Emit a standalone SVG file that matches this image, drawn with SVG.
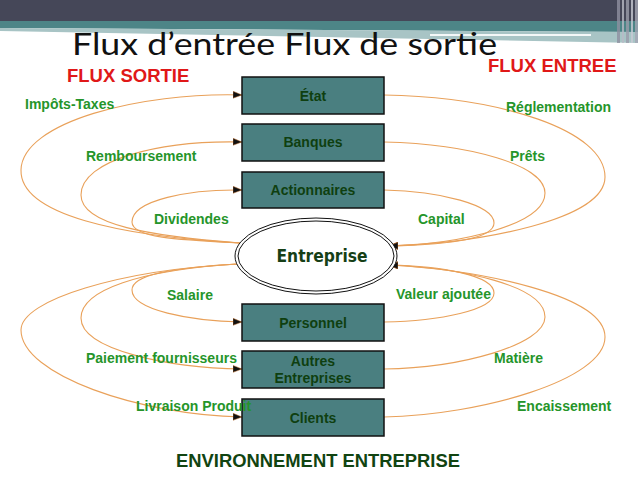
<svg xmlns="http://www.w3.org/2000/svg" width="638" height="479" viewBox="0 0 638 479">
<style>
.box{fill:#4a7f80;stroke:#111;stroke-width:1.5}
.bt{font-family:"Liberation Sans",Arial,sans-serif;font-weight:bold;font-size:14px;fill:#0f3f10;text-anchor:middle}
.lbl{font-family:"Liberation Sans",Arial,sans-serif;font-weight:bold;font-size:14px;fill:#25952a}
.red{font-family:"Liberation Sans",Arial,sans-serif;font-weight:bold;font-size:18.5px;fill:#e01818}
.flow{fill:none;stroke:#e9a15a;stroke-width:1.1;marker-end:url(#arr)}
</style>
<defs>
<marker id="arr" markerUnits="userSpaceOnUse" markerWidth="10" markerHeight="8" refX="9" refY="4" orient="auto">
<path d="M0,0.5 L9,4 L0,7.5 z" fill="#111" stroke="#c07030" stroke-width="0.5"/>
</marker>
</defs>
<rect width="638" height="479" fill="#fff"/>
<g id="header">
<rect x="0" y="0" width="638" height="21" fill="#454758"/>
<polygon points="0,21 638,21 638,32 0,28" fill="#4d8587"/>
<polygon points="0,28 638,32 638,43 0,31" fill="#a8c4c5"/>
<rect x="430" y="34" width="161" height="2" fill="#f4f8f8"/>
<rect x="617" y="0" width="3" height="43" fill="#8e90a0" opacity="0.8"/>
<rect x="622" y="0" width="2" height="43" fill="#b8bac6" opacity="0.8"/>
<rect x="626" y="0" width="3" height="43" fill="#9a9caa" opacity="0.8"/>
<rect x="631" y="0" width="2" height="43" fill="#c8cad4" opacity="0.8"/>
<rect x="635" y="0" width="3" height="43" fill="#a4a6b4" opacity="0.8"/>
</g>
<text x="72" y="55" font-family="Lato,'Open Sans',sans-serif" font-size="30" fill="#111" textLength="425" lengthAdjust="spacingAndGlyphs">Flux d’entrée Flux de sortie</text>
<text class="red" x="67" y="82">FLUX SORTIE</text>
<text class="red" x="488" y="72">FLUX ENTREE</text>
<g id="connectors">
<path class="flow" d="M240,243 C120,236 20,215 21,170 C22,122 140,92 242,95"/>
<path class="flow" d="M240,243 C150,236 81,225 81,195 C81,160 160,140 242,142"/>
<path class="flow" d="M240,243 C180,240 132,238 132,222 C132,200 190,189 242,190"/>
<path class="flow" d="M238,264 C170,268 132,275 132,290 C132,310 190,321 242,322"/>
<path class="flow" d="M238,264 C140,270 81,290 81,318 C81,350 170,368 242,369"/>
<path class="flow" d="M238,264 C120,270 21,300 21,330 C21,375 140,415 242,417"/>
<path class="flow" d="M384,95 C500,97 605,130 605,177 C605,220 480,243 389,246"/>
<path class="flow" d="M384,142 C470,144 545,165 545,193 C545,225 460,244 389,246"/>
<path class="flow" d="M384,190 C440,191 494,205 494,223 C494,240 440,245 389,246"/>
<path class="flow" d="M384,322 C440,321 494,310 494,293 C494,275 440,266 389,265"/>
<path class="flow" d="M384,369 C460,368 545,345 545,317 C545,285 460,268 389,265"/>
<path class="flow" d="M384,417 C480,415 605,380 605,337 C605,295 480,270 389,265"/>
</g>
<g id="etat"><rect class="box" x="242" y="77" width="142" height="37"/><text class="bt" x="313" y="101">État</text></g>
<g id="banques"><rect class="box" x="242" y="124" width="142" height="37"/><text class="bt" x="313" y="147">Banques</text></g>
<g id="actionnaires"><rect class="box" x="242" y="172" width="142" height="36"/><text class="bt" x="313" y="195">Actionnaires</text></g>
<g id="entreprise">
<ellipse cx="316" cy="256" rx="81" ry="38" fill="#fff" stroke="#111" stroke-width="1"/>
<ellipse cx="316" cy="256" rx="78" ry="35" fill="none" stroke="#111" stroke-width="1"/>
<text x="322" y="262" font-family="'DejaVu Sans',sans-serif" font-weight="bold" font-size="18" fill="#163f16" text-anchor="middle" textLength="91" lengthAdjust="spacingAndGlyphs">Entreprise</text>
</g>
<g id="personnel"><rect class="box" x="242" y="304" width="142" height="37"/><text class="bt" x="313" y="328">Personnel</text></g>
<g id="autres"><rect class="box" x="242" y="351" width="142" height="37"/><text class="bt" x="313" y="366">Autres</text><text class="bt" x="313" y="383">Entreprises</text></g>
<g id="clients"><rect class="box" x="242" y="399" width="142" height="37"/><text class="bt" x="313" y="423">Clients</text></g>
<g id="labels">
<text class="lbl" x="25" y="109">Impôts-Taxes</text>
<text class="lbl" x="86" y="161">Remboursement</text>
<text class="lbl" x="154" y="224">Dividendes</text>
<text class="lbl" x="506" y="112">Réglementation</text>
<text class="lbl" x="510" y="161">Prêts</text>
<text class="lbl" x="418" y="224">Capital</text>
<text class="lbl" x="167" y="300">Salaire</text>
<text class="lbl" x="396" y="299">Valeur ajoutée</text>
<text class="lbl" x="86" y="363">Paiement fournisseurs</text>
<text class="lbl" x="494" y="363">Matière</text>
<text class="lbl" x="136" y="411">Livraison Produit</text>
<text class="lbl" x="517" y="411">Encaissement</text>
</g>
<text x="176" y="467" font-family="'Liberation Sans',Arial,sans-serif" font-weight="bold" font-size="18" fill="#114411" textLength="284" lengthAdjust="spacingAndGlyphs">ENVIRONNEMENT ENTREPRISE</text>
</svg>
